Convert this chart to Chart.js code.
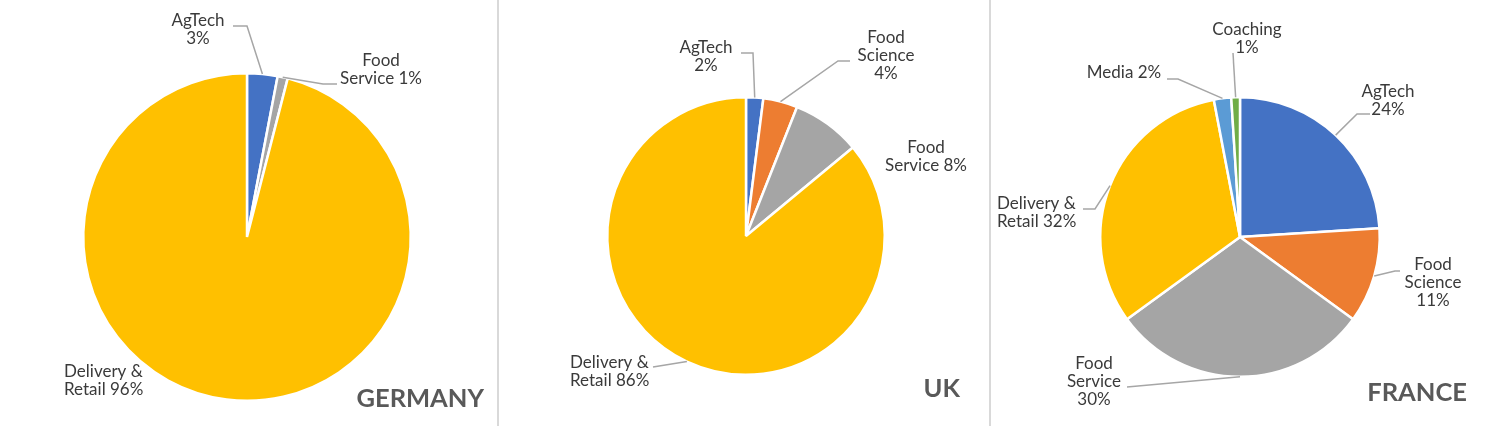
<!DOCTYPE html>
<html><head><meta charset="utf-8">
<script src="https://cdn.jsdelivr.net/npm/chart.js@4.4.0/dist/chart.umd.min.js"></script>
<style>
html,body{margin:0;padding:0;background:#fff;width:1490px;height:426px;overflow:hidden}
.c{position:absolute;left:0;top:0;width:1490px;height:426px}
.sep{position:absolute;top:0;width:2px;height:426px;background:#d9d9d9}
</style></head><body>
<div class="sep" style="left:497px"></div>
<div class="sep" style="left:989px"></div>
<canvas id="de" class="c" width="1490" height="426"></canvas>
<canvas id="uk" class="c" width="1490" height="426"></canvas>
<canvas id="fr" class="c" width="1490" height="426"></canvas>
<script>
// ---- data ----
const countryTitles = ['GERMANY', 'UK', 'FRANCE'];
const germanyCategories = ['AgTech', 'Food Service', 'Delivery & Retail'];
const germanyValues = [3, 1, 96];
const ukCategories = ['AgTech', 'Food Science', 'Food Service', 'Delivery & Retail'];
const ukValues = [2, 4, 8, 86];
const franceCategories = ['AgTech', 'Food Science', 'Food Service', 'Delivery & Retail', 'Media', 'Coaching'];
const franceValues = [24, 11, 30, 32, 2, 1];

// ---- styles ----
const categoryColors = {
  'AgTech': '#4472C4', 'Food Science': '#ED7D31', 'Food Service': '#A5A5A5',
  'Delivery & Retail': '#FFC000', 'Media': '#5B9BD5', 'Coaching': '#70AD47'
};
const W = 1490, H = 426;
const LABEL_FONT = '17px Lato';
const LABEL_COLOR = '#3a3a3a';
const LEADER_COLOR = '#A6A6A6';
const LH = 18;

// label layouts: line templates ({v} -> value), anchor, alignment, leader points (arc point appended)
const germanyLabels = [
  {lines: ['AgTech', '{v}%'], x: 198, y: 20, align: 'center', leader: [[233, 26], [247, 26]]},
  {lines: ['Food', 'Service {v}%'], x: 381, y: 60, align: 'center', leader: [[337, 84], [323, 84]]},
  {lines: ['Delivery &', 'Retail {v}%'], x: 64, y: 371, align: 'left', leader: null}
];
const ukLabels = [
  {lines: ['AgTech', '{v}%'], x: 706, y: 47, align: 'center', leader: [[741, 53], [753, 53]]},
  {lines: ['Food', 'Science', '{v}%'], x: 886, y: 37, align: 'center', leader: [[850, 61], [838, 61]]},
  {lines: ['Food', 'Service {v}%'], x: 926, y: 147, align: 'center', leader: null},
  {lines: ['Delivery &', 'Retail {v}%'], x: 570, y: 362, align: 'left', leader: [[653, 367]]}
];
const franceLabels = [
  {lines: ['AgTech', '{v}%'], x: 1388, y: 91, align: 'center', leader: [[1370, 114], [1357, 114]]},
  {lines: ['Food', 'Science', '{v}%'], x: 1433, y: 264, align: 'center', leader: [[1400, 271], [1395, 271]]},
  {lines: ['Food', 'Service', '{v}%'], x: 1094, y: 363, align: 'center', leader: [[1127, 387]]},
  {lines: ['Delivery &', 'Retail {v}%'], x: 997, y: 203, align: 'left', leader: [[1083, 209], [1095, 209]]},
  {lines: ['Media {v}%'], x: 1124, y: 72, align: 'center', leader: [[1167, 79], [1178, 79]]},
  {lines: ['Coaching', '{v}%'], x: 1247, y: 29, align: 'center', leader: [[1233, 53]]}
];

const panels = [
  {id: 'de', cats: germanyCategories, vals: germanyValues, labels: germanyLabels, title: countryTitles[0],
   cx: 247, cy: 237, r: 165, titleRight: 484, titleBase: 407},
  {id: 'uk', cats: ukCategories, vals: ukValues, labels: ukLabels, title: countryTitles[1],
   cx: 746, cy: 236, r: 140, titleRight: 960, titleBase: 397},
  {id: 'fr', cats: franceCategories, vals: franceValues, labels: franceLabels, title: countryTitles[2],
   cx: 1240, cy: 237, r: 141, titleRight: 1467, titleBase: 401}
];

const labelPlugin = {
  id: 'pieLabels',
  afterDatasetsDraw(chart, args, opts) {
    const ctx = chart.ctx;
    const meta = chart.getDatasetMeta(0);
    const vals = chart.data.datasets[0].data;
    ctx.save();
    opts.labels.forEach((lab, i) => {
      const arc = meta.data[i];
      const p = arc.getProps(['x', 'y', 'startAngle', 'endAngle', 'outerRadius'], true);
      const mid = (p.startAngle + p.endAngle) / 2;
      const ax = p.x + Math.cos(mid) * p.outerRadius;
      const ay = p.y + Math.sin(mid) * p.outerRadius;
      if (lab.leader) {
        ctx.beginPath();
        ctx.strokeStyle = LEADER_COLOR;
        ctx.lineWidth = 1.5;
        lab.leader.forEach((pt, k) => k === 0 ? ctx.moveTo(pt[0], pt[1]) : ctx.lineTo(pt[0], pt[1]));
        ctx.lineTo(ax, ay);
        ctx.stroke();
      }
      ctx.fillStyle = LABEL_COLOR;
      ctx.font = LABEL_FONT;
      ctx.textAlign = lab.align;
      ctx.textBaseline = 'alphabetic';
      lab.lines.forEach((t, k) => {
        ctx.fillText(t.replace('{v}', vals[i]), lab.x, lab.y + 6 + k * LH);
      });
    });
    ctx.font = 'bold 25.5px Lato';
    ctx.fillStyle = '#595959';
    ctx.textAlign = 'right';
    ctx.textBaseline = 'alphabetic';
    ctx.fillText(opts.title, opts.titleRight, opts.titleBase);
    ctx.restore();
  }
};

panels.forEach(p => {
  new Chart(document.getElementById(p.id), {
    type: 'pie',
    data: {
      labels: p.cats,
      datasets: [{
        data: p.vals,
        backgroundColor: p.cats.map(c => categoryColors[c]),
        borderColor: '#ffffff',
        borderWidth: 2.5,
        hoverOffset: 0
      }]
    },
    options: {
      responsive: false,
      animation: false,
      events: [],
      layout: {padding: {left: p.cx - p.r, top: p.cy - p.r, right: W - p.cx - p.r, bottom: H - p.cy - p.r}},
      plugins: {
        legend: {display: false},
        tooltip: {enabled: false},
        title: {display: false},
        pieLabels: {labels: p.labels, title: p.title, titleRight: p.titleRight, titleBase: p.titleBase}
      }
    },
    plugins: [labelPlugin]
  });
});
</script>
</body></html>
